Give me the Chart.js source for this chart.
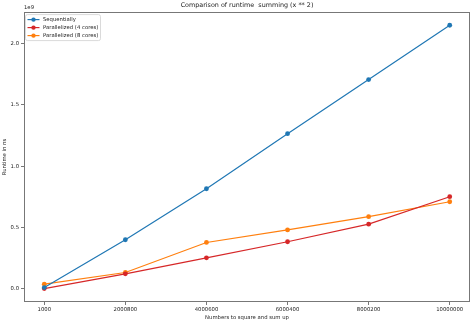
<!DOCTYPE html>
<html>
<head>
  <title>Comparison of runtime summing</title>
  <script src="https://cdn.jsdelivr.net/npm/chart.js"></script>
  <style>
    body { margin: 0; background: #fff; }
  </style>
</head>
<body>
  <canvas id="chartRuntime" width="474" height="322"></canvas>

  <script>
    // numbers to square and sum up
    const xValues = [1000, 2000800, 4000600, 6000400, 8000200, 10000000];
    // runtime in ns
    const sequential = [10e6, 400e6, 816e6, 1265e6, 1706e6, 2149e6];
    const parallel4 = [2e6, 122e6, 253e6, 384e6, 527e6, 751e6];
    const parallel8 = [38e6, 133e6, 378e6, 480e6, 588e6, 710e6];
    const yTicks = [0, 0.5e9, 1.0e9, 1.5e9, 2.0e9];

    const FONT = 'DejaVu Sans';
    const TEXT = '#222';
    const SPINE = '#777';

    const toPoints = vals => vals.map((v, i) => ({ x: xValues[i], y: v }));
    const series = (label, vals, color) => ({
      label: label,
      data: toPoints(vals),
      borderColor: color,
      backgroundColor: color,
      borderWidth: 1.2,
      pointRadius: 2.4,
      pointBorderWidth: 0,
      tension: 0
    });

    // frame, offset text and an in-plot legend like matplotlib
    const mplBits = {
      id: 'mplBits',
      afterDraw(chart) {
        const ctx = chart.ctx;
        const a = chart.chartArea;
        ctx.save();
        ctx.strokeStyle = SPINE;
        ctx.lineWidth = 1;
        ctx.strokeRect(Math.round(a.left) + 0.5, Math.round(a.top) + 0.5,
          Math.round(a.right - a.left) - 1, Math.round(a.bottom - a.top) - 1);

        ctx.fillStyle = TEXT;
        ctx.font = '5.3px "' + FONT + '"';
        ctx.textBaseline = 'middle';
        ctx.textAlign = 'left';
        ctx.fillText('1e9', a.left, 8);

        // legend
        const lx = a.left + 1.5, ly = a.top + 2.5, lw = 75, lh = 26;
        ctx.fillStyle = 'rgba(255,255,255,0.8)';
        ctx.strokeStyle = '#d0d0d0';
        ctx.lineWidth = 0.8;
        ctx.beginPath();
        ctx.roundRect(lx, ly, lw, lh, 2);
        ctx.fill();
        ctx.stroke();
        chart.data.datasets.forEach((ds, i) => {
          const cy = ly + 5 + i * 8;
          ctx.strokeStyle = ds.borderColor;
          ctx.lineWidth = 1.2;
          ctx.beginPath();
          ctx.moveTo(lx + 2, cy);
          ctx.lineTo(lx + 14, cy);
          ctx.stroke();
          ctx.fillStyle = ds.borderColor;
          ctx.beginPath();
          ctx.arc(lx + 8, cy, 2.2, 0, Math.PI * 2);
          ctx.fill();
          ctx.fillStyle = TEXT;
          ctx.fillText(ds.label, lx + 17.5, cy);
        });
        ctx.restore();
      }
    };

    const xSpan = xValues[xValues.length - 1] - xValues[0];
    const ySpan = 2149e6;

    new Chart(document.getElementById('chartRuntime').getContext('2d'), {
      type: 'line',
      data: {
        datasets: [
          series('Sequentially', sequential, '#1f77b4'),
          series('Parallelized (4 cores)', parallel4, '#d62728'),
          series('Parallelized (8 cores)', parallel8, '#ff7f0e')
        ]
      },
      options: {
        responsive: false,
        animation: false,
        layout: { padding: { left: 0, right: 3.5, top: 0, bottom: 0 } },
        plugins: {
          legend: { display: false },
          tooltip: { enabled: false },
          title: {
            display: true,
            fullSize: false,
            text: 'Comparison of runtime  summing (x ** 2)',
            color: TEXT,
            font: { family: FONT, size: 6.4, weight: 'normal' },
            padding: { top: 2, bottom: 2.4 }
          }
        },
        scales: {
          x: {
            type: 'linear',
            min: xValues[0] - 0.05 * xSpan,
            max: xValues[xValues.length - 1] + 0.05 * xSpan,
            afterBuildTicks: s => { s.ticks = xValues.map(v => ({ value: v })); },
            afterFit: s => { s.height = 20; },
            ticks: {
              callback: v => String(v),
              color: TEXT,
              font: { family: FONT, size: 5.3 },
              padding: 1.5,
              maxRotation: 0,
              autoSkip: false
            },
            grid: { drawOnChartArea: false, drawTicks: true, tickLength: 3, color: SPINE },
            border: { display: false },
            title: {
              display: true,
              text: 'Numbers to square and sum up',
              color: TEXT,
              font: { family: FONT, size: 5.3 },
              padding: { top: 0, bottom: 1 }
            }
          },
          y: {
            min: -0.05 * ySpan,
            max: ySpan * 1.05,
            afterBuildTicks: s => { s.ticks = yTicks.map(v => ({ value: v })); },
            afterFit: s => { s.width = 24; },
            ticks: {
              callback: v => (v / 1e9).toFixed(1),
              color: TEXT,
              font: { family: FONT, size: 5.3 },
              padding: 2
            },
            grid: { drawOnChartArea: false, drawTicks: true, tickLength: 3, color: SPINE },
            border: { display: false },
            title: {
              display: true,
              text: 'Runtime in ns',
              color: TEXT,
              font: { family: FONT, size: 5.3 },
              padding: { top: 1, bottom: 0 }
            }
          }
        }
      },
      plugins: [mplBits]
    });
  </script>
</body>
</html>
